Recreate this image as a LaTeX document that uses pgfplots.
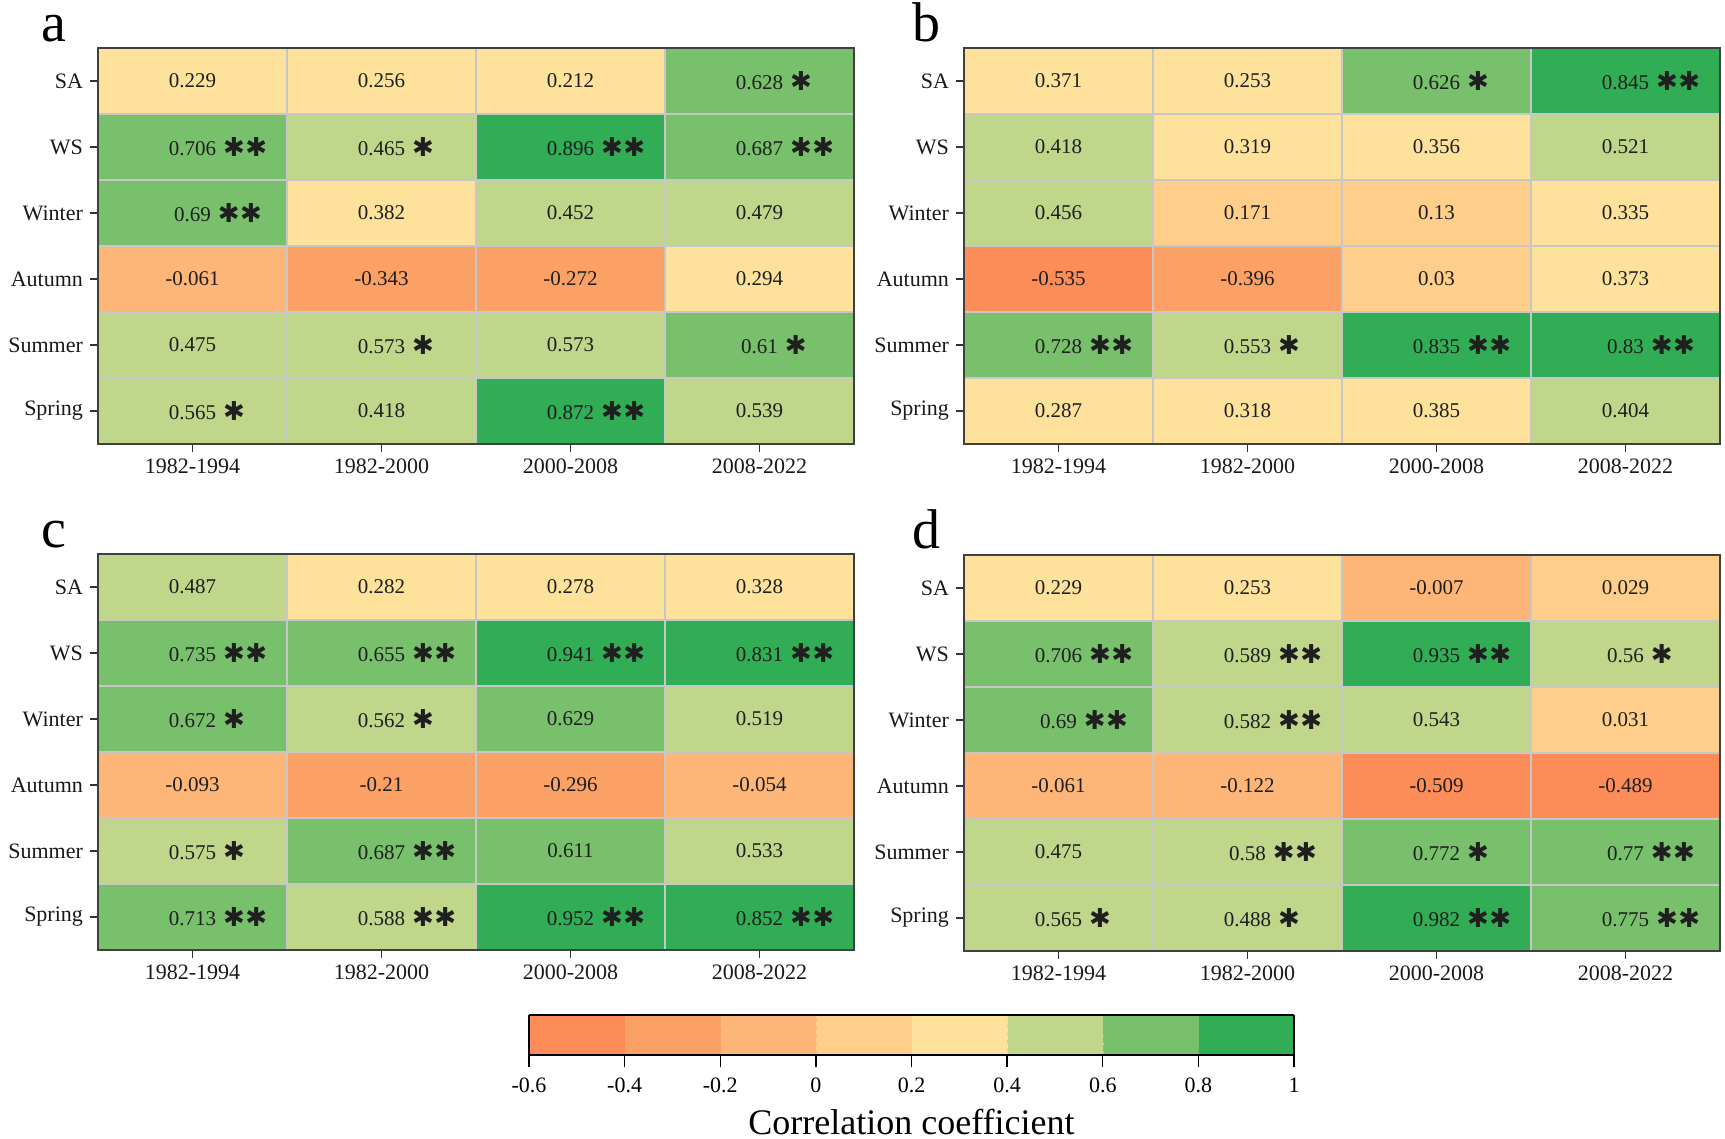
\documentclass[border=0pt]{standalone}
\usepackage{fontspec}
\setmainfont{Liberation Serif}
\newfontfamily\djv{DejaVu Sans}
\usepackage{pgfplots}
\usepackage{pgfplotstable}
\pgfplotsset{compat=1.18}
\protected\def\stA{\rlap{\hspace{3.5pt}{\djv\fontsize{13}{13}\selectfont\raisebox{-0.3pt}{✱}}}}
\protected\def\stB{\rlap{\hspace{3.5pt}{\djv\fontsize{13}{13}\selectfont\raisebox{-0.3pt}{✱\kern0.2pt✱}}}}
\definecolor{c1}{RGB}{252,141,89}
\definecolor{c2}{RGB}{252,161,102}
\definecolor{c3}{RGB}{253,182,120}
\definecolor{c4}{RGB}{254,206,138}
\definecolor{c5}{RGB}{254,226,156}
\definecolor{c6}{RGB}{191,214,139}
\definecolor{c7}{RGB}{120,192,108}
\definecolor{c8}{RGB}{49,173,85}
\tikzset{plab/.style={anchor=base west, font=\fontsize{28}{28}\selectfont, inner sep=0pt}}
\pgfplotsset{
  colormap={corr}{color=(c1) color=(c2) color=(c3) color=(c4) color=(c5) color=(c6) color=(c7) color=(c8)},
  hm/.style={
    width=378pt, height=198pt, scale only axis,
    xmin=-0.5, xmax=3.5, ymin=-0.5, ymax=5.5,
    xtick={0,1,2,3}, ytick={0,1,2,3,4,5},
    xticklabels={1982-1994,1982-2000,2000-2008,2008-2022},
    yticklabels={Spring,Summer,Autumn,Winter,WS,SA},
    tick align=outside, tick pos=left, major tick length=4pt,
    tick style={black!80, line width=0.7pt},
    ticklabel style={font=\fontsize{11}{13}\selectfont, text=black!90},
    axis line style={black!75, line width=0.8pt},
    colormap name=corr, colormap access=piecewise constant,
    point meta min=-0.6, point meta max=1,
    axis on top,
    minor xtick={0.5,1.5,2.5}, minor ytick={0.5,1.5,2.5,3.5,4.5},
    minor tick length=0pt,
    minor grid style={black!22, line width=0.8pt},
    xminorgrids=true, yminorgrids=true,
    clip=false,
  },
  cellmap/.style={matrix plot*, mesh/cols=4, point meta=explicit},
  celltext/.style={draw=none, mark=none, nodes near coords, point meta=explicit symbolic,
    nodes near coords align={center},
    nodes near coords style={font=\fontsize{10.5}{12}\selectfont, text=black!88, inner sep=0pt}},
}
\pgfplotstableread{
x y c t
0 0 0.565 0.565\stA
1 0 0.418 0.418
2 0 0.872 0.872\stB
3 0 0.539 0.539
0 1 0.475 0.475
1 1 0.573 0.573\stA
2 1 0.573 0.573
3 1 0.61 0.61\stA
0 2 -0.061 -0.061
1 2 -0.343 -0.343
2 2 -0.272 -0.272
3 2 0.294 0.294
0 3 0.69 0.69\stB
1 3 0.382 0.382
2 3 0.452 0.452
3 3 0.479 0.479
0 4 0.706 0.706\stB
1 4 0.465 0.465\stA
2 4 0.896 0.896\stB
3 4 0.687 0.687\stB
0 5 0.229 0.229
1 5 0.256 0.256
2 5 0.212 0.212
3 5 0.628 0.628\stA
}\tA
\pgfplotstableread{
x y c t
0 0 0.287 0.287
1 0 0.318 0.318
2 0 0.385 0.385
3 0 0.404 0.404
0 1 0.728 0.728\stB
1 1 0.553 0.553\stA
2 1 0.835 0.835\stB
3 1 0.83 0.83\stB
0 2 -0.535 -0.535
1 2 -0.396 -0.396
2 2 0.03 0.03
3 2 0.373 0.373
0 3 0.456 0.456
1 3 0.171 0.171
2 3 0.13 0.13
3 3 0.335 0.335
0 4 0.418 0.418
1 4 0.319 0.319
2 4 0.356 0.356
3 4 0.521 0.521
0 5 0.371 0.371
1 5 0.253 0.253
2 5 0.626 0.626\stA
3 5 0.845 0.845\stB
}\tB
\pgfplotstableread{
x y c t
0 0 0.713 0.713\stB
1 0 0.588 0.588\stB
2 0 0.952 0.952\stB
3 0 0.852 0.852\stB
0 1 0.575 0.575\stA
1 1 0.687 0.687\stB
2 1 0.611 0.611
3 1 0.533 0.533
0 2 -0.093 -0.093
1 2 -0.21 -0.21
2 2 -0.296 -0.296
3 2 -0.054 -0.054
0 3 0.672 0.672\stA
1 3 0.562 0.562\stA
2 3 0.629 0.629
3 3 0.519 0.519
0 4 0.735 0.735\stB
1 4 0.655 0.655\stB
2 4 0.941 0.941\stB
3 4 0.831 0.831\stB
0 5 0.487 0.487
1 5 0.282 0.282
2 5 0.278 0.278
3 5 0.328 0.328
}\tC
\pgfplotstableread{
x y c t
0 0 0.565 0.565\stA
1 0 0.488 0.488\stA
2 0 0.982 0.982\stB
3 0 0.775 0.775\stB
0 1 0.475 0.475
1 1 0.58 0.58\stB
2 1 0.772 0.772\stA
3 1 0.77 0.77\stB
0 2 -0.061 -0.061
1 2 -0.122 -0.122
2 2 -0.509 -0.509
3 2 -0.489 -0.489
0 3 0.69 0.69\stB
1 3 0.582 0.582\stB
2 3 0.543 0.543
3 3 0.031 0.031
0 4 0.706 0.706\stB
1 4 0.589 0.589\stB
2 4 0.935 0.935\stB
3 4 0.56 0.56\stA
0 5 0.229 0.229
1 5 0.253 0.253
2 5 -0.007 -0.007
3 5 0.029 0.029
}\tD
\begin{document}
\begin{tikzpicture}
\useasboundingbox (-49pt,-545.5pt) rectangle (813.5pt,24pt);
\coordinate (cb) at (215.5pt,-475pt);
\begin{axis}[hm, at={(0pt,0pt)}, anchor=north west]
\addplot[cellmap] table[meta=c]{\tA};
\addplot[celltext] table[meta=t]{\tA};
\node[plab] at (rel axis cs:0,1) [xshift=-28.5pt, yshift=3pt] {a};
\end{axis}
\begin{axis}[hm, at={(433pt,0pt)}, anchor=north west]
\addplot[cellmap] table[meta=c]{\tB};
\addplot[celltext] table[meta=t]{\tB};
\node[plab] at (rel axis cs:0,1) [xshift=-26pt, yshift=3pt] {b};
\end{axis}
\begin{axis}[hm, at={(0pt,-253pt)}, anchor=north west]
\addplot[cellmap] table[meta=c]{\tC};
\addplot[celltext] table[meta=t]{\tC};
\node[plab] at (rel axis cs:0,1) [xshift=-28.5pt, yshift=3pt] {c};
\end{axis}
\begin{axis}[hm, at={(433pt,-253.5pt)}, anchor=north west,
  colorbar horizontal,
  colorbar style={at={(cb)}, anchor=north west, width=382.5pt, height=20pt,
    xtick={-0.6,-0.4,-0.2,0,0.2,0.4,0.6,0.8,1},
    xticklabels={-0.6,-0.4,-0.2,0,0.2,0.4,0.6,0.8,1},
    xtick pos=bottom,
    tick align=outside, major tick length=6pt,
    tick style={black, line width=0.7pt},
    axis line style={black, line width=0.8pt},
    ticklabel style={font=\fontsize{11}{13}\selectfont, yshift=-2pt},
    xlabel={Correlation coefficient},
    xlabel style={font=\fontsize{18}{20}\selectfont, yshift=-1pt},
  }]
\addplot[cellmap] table[meta=c]{\tD};
\addplot[celltext] table[meta=t]{\tD};
\node[plab] at (rel axis cs:0,1) [xshift=-26pt, yshift=3pt] {d};
\end{axis}
\end{tikzpicture}
\end{document}
